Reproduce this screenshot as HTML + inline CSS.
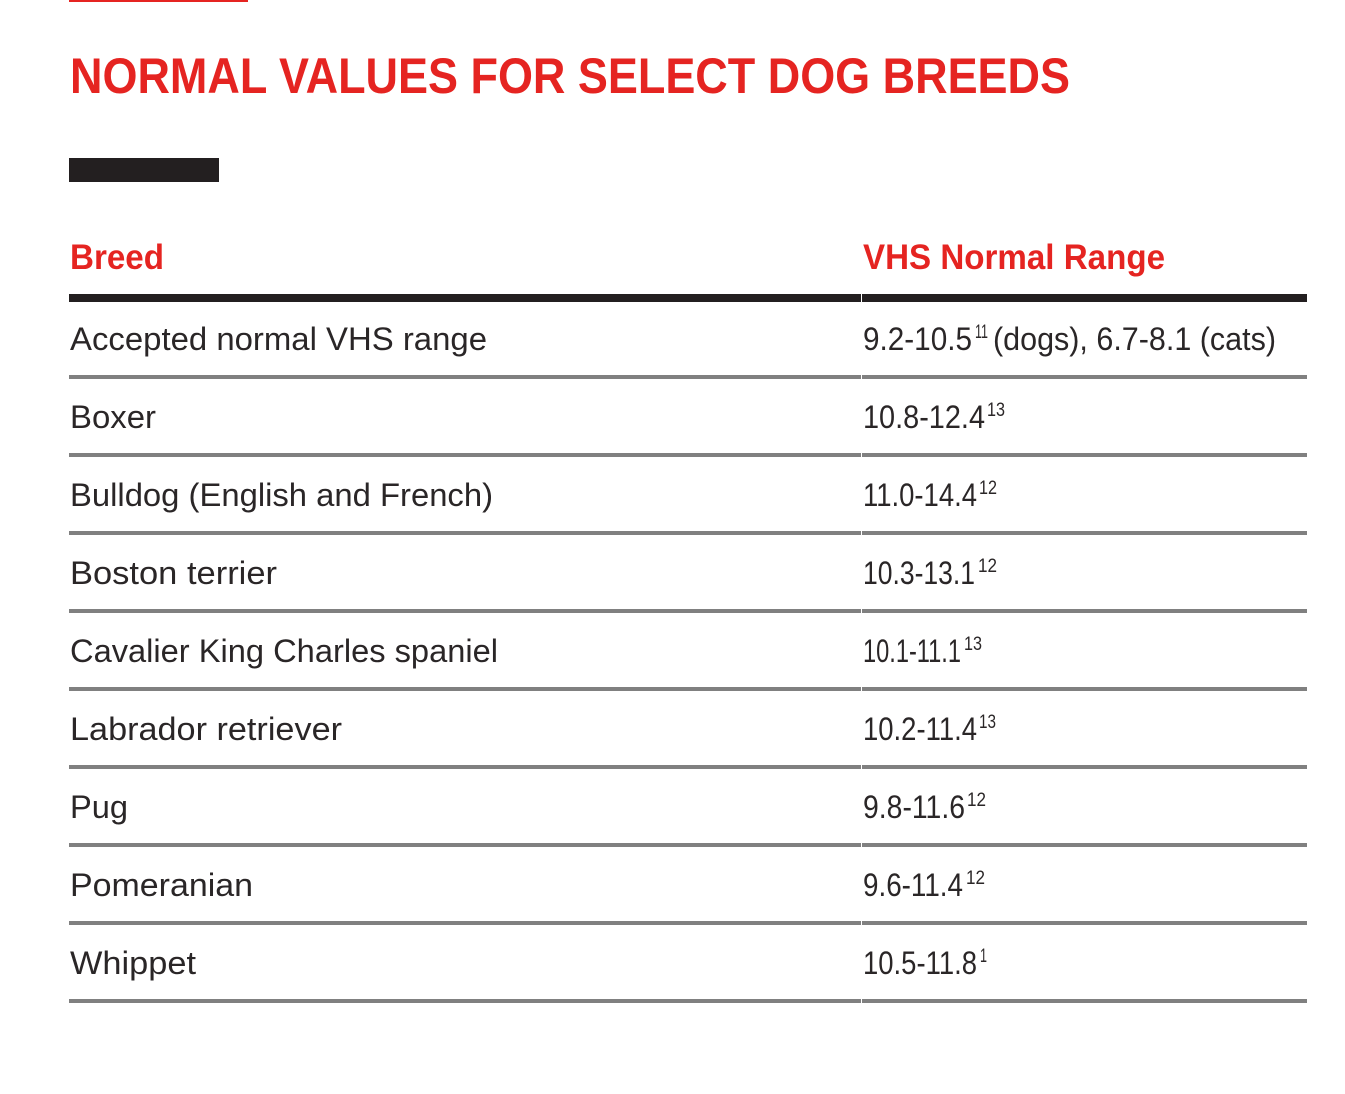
<!DOCTYPE html>
<html><head><meta charset="utf-8"><style>
html,body{margin:0;padding:0;background:#fff;}
svg{display:block;}
</style></head><body>
<svg width="1345" height="1094" viewBox="0 0 1345 1094" xmlns="http://www.w3.org/2000/svg" font-family="Liberation Sans, sans-serif">
<rect x="69" y="0" width="179" height="2" fill="#e52421"/>
<text x="70" y="93" font-size="50" font-weight="bold" fill="#e52421" textLength="1000" lengthAdjust="spacingAndGlyphs">NORMAL VALUES FOR SELECT DOG BREEDS</text>
<rect x="69" y="158" width="150" height="24" fill="#231f20"/>
<text x="70" y="269" font-size="35" font-weight="bold" fill="#e52421" textLength="94" lengthAdjust="spacingAndGlyphs">Breed</text>
<text x="863" y="269" font-size="35" font-weight="bold" fill="#e52421" textLength="302" lengthAdjust="spacingAndGlyphs">VHS Normal Range</text>
<rect x="69" y="294" width="792" height="8" fill="#231f20"/>
<rect x="862" y="294" width="445" height="8" fill="#231f20"/>
<g fill="#808080">
<rect x="69" y="375" width="792" height="4"/><rect x="862" y="375" width="445" height="4"/>
<rect x="69" y="453" width="792" height="4"/><rect x="862" y="453" width="445" height="4"/>
<rect x="69" y="531" width="792" height="4"/><rect x="862" y="531" width="445" height="4"/>
<rect x="69" y="609" width="792" height="4"/><rect x="862" y="609" width="445" height="4"/>
<rect x="69" y="687" width="792" height="4"/><rect x="862" y="687" width="445" height="4"/>
<rect x="69" y="765" width="792" height="4"/><rect x="862" y="765" width="445" height="4"/>
<rect x="69" y="843" width="792" height="4"/><rect x="862" y="843" width="445" height="4"/>
<rect x="69" y="921" width="792" height="4"/><rect x="862" y="921" width="445" height="4"/>
<rect x="69" y="999" width="792" height="4"/><rect x="862" y="999" width="445" height="4"/>
</g>
<g font-size="32" fill="#2a2627">
<text x="70" y="350" textLength="417" lengthAdjust="spacingAndGlyphs">Accepted normal VHS range</text>
<text x="70" y="428" textLength="86" lengthAdjust="spacingAndGlyphs">Boxer</text>
<text x="70" y="506" textLength="423" lengthAdjust="spacingAndGlyphs">Bulldog (English and French)</text>
<text x="70" y="584" textLength="207" lengthAdjust="spacingAndGlyphs">Boston terrier</text>
<text x="70" y="662" textLength="428" lengthAdjust="spacingAndGlyphs">Cavalier King Charles spaniel</text>
<text x="70" y="740" textLength="272" lengthAdjust="spacingAndGlyphs">Labrador retriever</text>
<text x="70" y="818" textLength="58" lengthAdjust="spacingAndGlyphs">Pug</text>
<text x="70" y="896" textLength="183" lengthAdjust="spacingAndGlyphs">Pomeranian</text>
<text x="70" y="974" textLength="126" lengthAdjust="spacingAndGlyphs">Whippet</text>

<text x="863" y="350" textLength="109" lengthAdjust="spacingAndGlyphs">9.2-10.5</text>
<text x="993" y="350" textLength="283" lengthAdjust="spacingAndGlyphs">(dogs), 6.7-8.1 (cats)</text>
<text x="863" y="428" textLength="122" lengthAdjust="spacingAndGlyphs">10.8-12.4</text>
<text x="863" y="506" textLength="114" lengthAdjust="spacingAndGlyphs">11.0-14.4</text>
<text x="863" y="584" textLength="112" lengthAdjust="spacingAndGlyphs">10.3-13.1</text>
<text x="863" y="662" textLength="98" lengthAdjust="spacingAndGlyphs">10.1-11.1</text>
<text x="863" y="740" textLength="114" lengthAdjust="spacingAndGlyphs">10.2-11.4</text>
<text x="863" y="818" textLength="102" lengthAdjust="spacingAndGlyphs">9.8-11.6</text>
<text x="863" y="896" textLength="100" lengthAdjust="spacingAndGlyphs">9.6-11.4</text>
<text x="863" y="974" textLength="114" lengthAdjust="spacingAndGlyphs">10.5-11.8</text>
</g>
<g font-size="19" fill="#2a2627">
<text x="975" y="338" textLength="13" lengthAdjust="spacingAndGlyphs">11</text>
<text x="987" y="416" textLength="18" lengthAdjust="spacingAndGlyphs">13</text>
<text x="979" y="494" textLength="18" lengthAdjust="spacingAndGlyphs">12</text>
<text x="978" y="572" textLength="19" lengthAdjust="spacingAndGlyphs">12</text>
<text x="964" y="650" textLength="18" lengthAdjust="spacingAndGlyphs">13</text>
<text x="979" y="728" textLength="17" lengthAdjust="spacingAndGlyphs">13</text>
<text x="967" y="806" textLength="19" lengthAdjust="spacingAndGlyphs">12</text>
<text x="966" y="884" textLength="19" lengthAdjust="spacingAndGlyphs">12</text>
<text x="980" y="962" textLength="7" lengthAdjust="spacingAndGlyphs">1</text>
</g>
</svg>
</body></html>
